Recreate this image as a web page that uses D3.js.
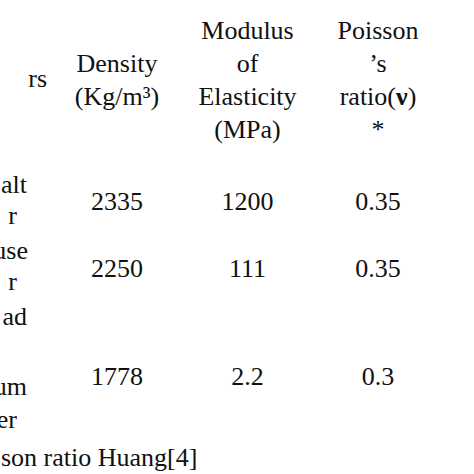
<!DOCTYPE html>
<html>
<head>
<meta charset="UTF-8">
<script src="https://d3js.org/d3.v7.min.js"></script>
<style>
  body { margin: 0; background: white; }
  text { font-family: "Liberation Serif", "Times New Roman", serif; font-size: 26px; fill: #111; }
</style>
</head>
<body>
<script>
// table content (the picture is cropped on the left, so only the visible parts are kept)
var columns = ["Density", "Modulus", "Poisson"];
var headerLines = [
  ["", "Density", "(Kg/m\u00b3)", ""],
  ["Modulus", "of", "Elasticity", "(MPa)"],
  ["Poisson", "\u2019s", "ratio(\u03bd)", "*"]
];
var rowValues = [
  ["2335", "1200", "0.35"],
  ["2250", "111", "0.35"],
  ["1778", "2.2", "0.3"]
];
var rowBaselines = [210, 277, 385];
var leftLabels = [["rs", 47, 87], ["alt", 27, 193], ["r", 17, 224], ["use", 28, 259], ["r", 17, 290], ["ad", 27, 325], ["um", 27, 395], ["er", 17, 428]];
var footnote = "son ratio Huang[4]";

var W = 474, H = 474;
var svg = d3.select("body").append("svg").attr("width", W).attr("height", H);

var x = d3.scalePoint().domain(columns).range([117, 378]);
var headY = d3.scaleLinear().domain([0, 3]).range([39, 138]);

// header
headerLines.forEach(function(lines, ci) {
  svg.append("g").selectAll("text").data(lines).enter().append("text")
    .attr("x", x(columns[ci]))
    .attr("y", function(d, i) { return headY(i); })
    .attr("text-anchor", "middle")
    .each(function(d) {
      var t = d3.select(this);
      if (d.indexOf("\u03bd") >= 0) {
        t.append("tspan").text("ratio(");
        t.append("tspan").attr("font-weight", "bold").text("\u03bd");
        t.append("tspan").text(")");
      } else t.text(d);
    });
});

// left labels
svg.append("g").selectAll("text").data(leftLabels).enter().append("text")
  .attr("x", function(d) { return d[1]; })
  .attr("y", function(d) { return d[2]; })
  .attr("text-anchor", "end")
  .text(function(d) { return d[0]; });

// values
rowValues.forEach(function(row, ri) {
  svg.append("g").selectAll("text").data(row).enter().append("text")
    .attr("x", function(d, i) { return x(columns[i]); })
    .attr("y", rowBaselines[ri])
    .attr("text-anchor", "middle")
    .text(function(d) { return d; });
});

svg.append("text").attr("x", 1).attr("y", 466).text(footnote);
</script>
</body>
</html>
